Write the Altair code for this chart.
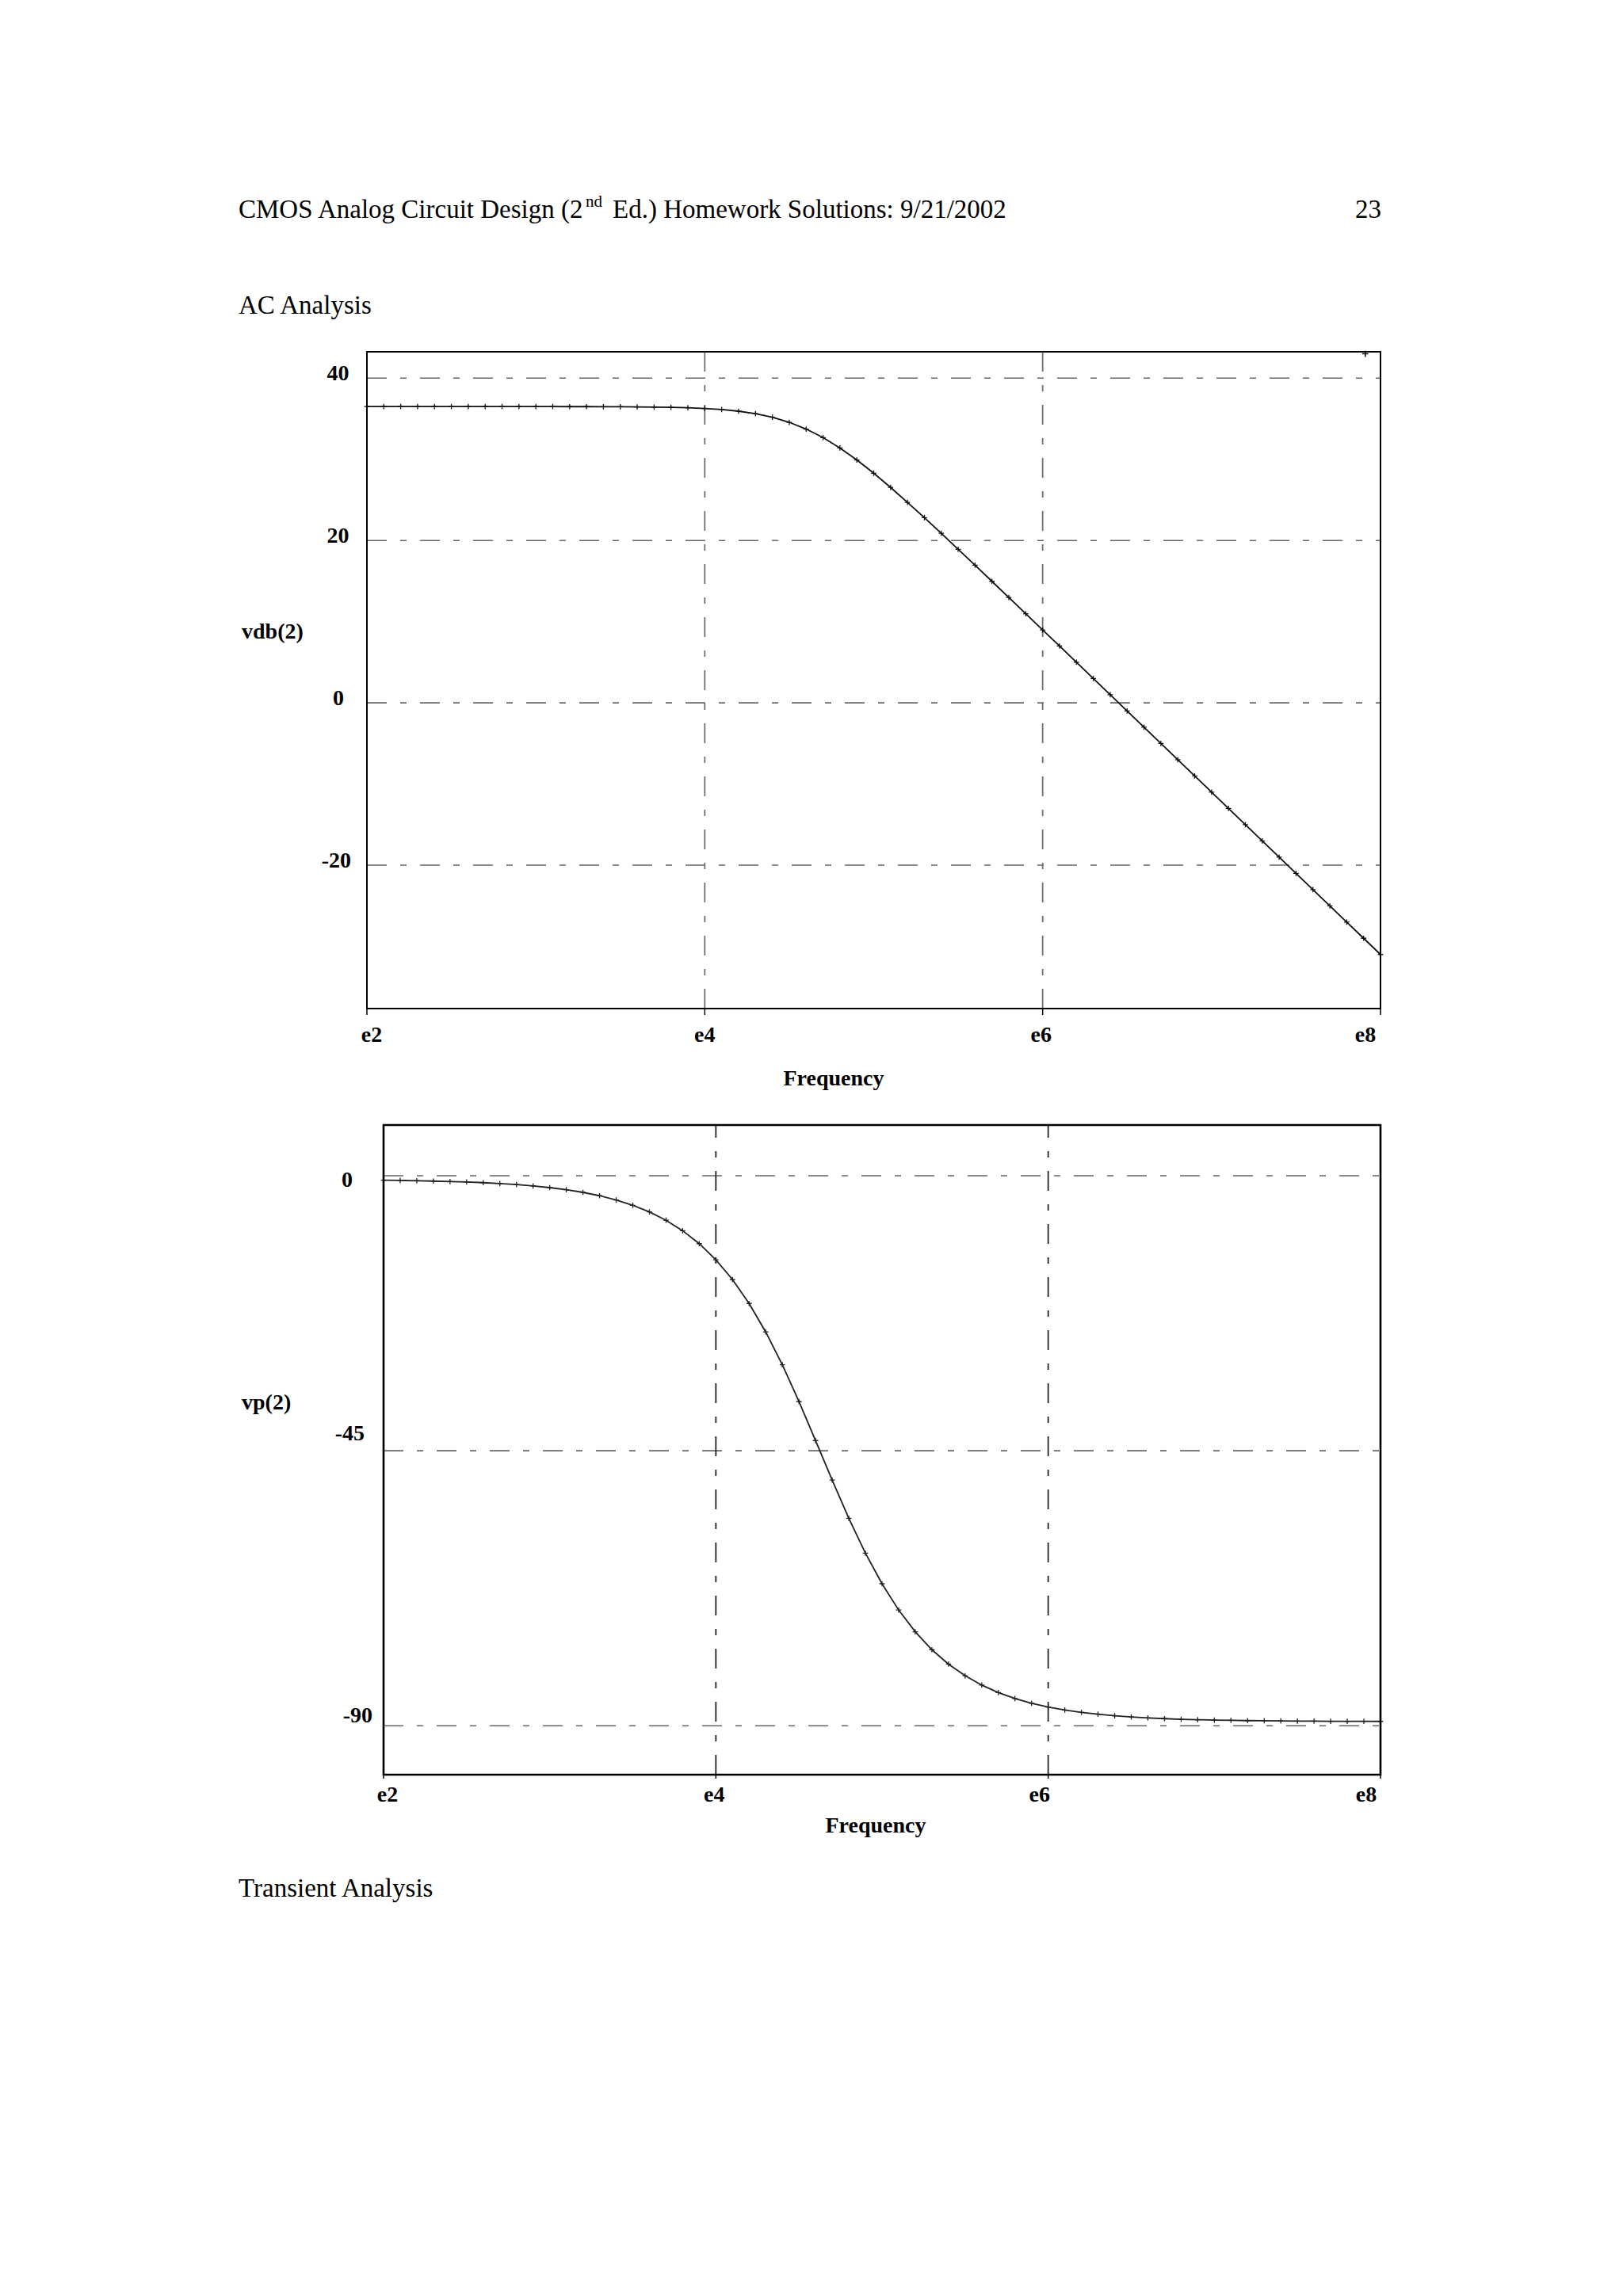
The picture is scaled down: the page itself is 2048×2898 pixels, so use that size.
import altair as alt
import pandas as pd

# ---------------- data ----------------
freq_exp = [2.0, 2.1, 2.2, 2.3, 2.4, 2.5, 2.6, 2.7, 2.8, 2.9,
            3.0, 3.1, 3.2, 3.3, 3.4, 3.5, 3.6, 3.7, 3.8, 3.9,
            4.0, 4.1, 4.2, 4.3, 4.4, 4.5, 4.6, 4.7, 4.8, 4.9,
            5.0, 5.1, 5.2, 5.3, 5.4, 5.5, 5.6, 5.7, 5.8, 5.9,
            6.0, 6.1, 6.2, 6.3, 6.4, 6.5, 6.6, 6.7, 6.8, 6.9,
            7.0, 7.1, 7.2, 7.3, 7.4, 7.5, 7.6, 7.7, 7.8, 7.9, 8.0]

vdb = [36.50, 36.50, 36.50, 36.50, 36.50, 36.50, 36.50, 36.50, 36.50, 36.50,
       36.50, 36.50, 36.49, 36.49, 36.48, 36.48, 36.46, 36.44, 36.40, 36.35,
       36.26, 36.13, 35.93, 35.62, 35.18, 34.56, 33.73, 32.68, 31.40, 29.92,
       28.29, 26.54, 24.70, 22.81, 20.88, 18.92, 16.95, 14.97, 12.98, 10.99,
       8.99, 7.00, 5.00, 3.00, 1.00, -1.00, -3.00, -5.00, -7.00, -9.00,
       -11.00, -13.00, -15.00, -17.00, -19.00, -21.00, -23.00, -25.00, -27.00, -29.00, -31.00]

vp = [-0.73, -0.77, -0.81, -0.87, -0.94, -1.02, -1.13, -1.27, -1.45, -1.66,
      -1.94, -2.29, -2.72, -3.27, -3.96, -4.83, -5.92, -7.28, -8.99, -11.11,
      -13.75, -16.98, -20.90, -25.56, -30.94, -36.94, -43.33, -49.80, -56.04, -61.75,
      -66.76, -71.05, -74.62, -77.55, -79.91, -81.81, -83.34, -84.56, -85.54, -86.31,
      -86.92, -87.41, -87.80, -88.11, -88.36, -88.55, -88.71, -88.83, -88.93, -89.00,
      -89.06, -89.11, -89.15, -89.18, -89.21, -89.23, -89.24, -89.26, -89.27, -89.27, -89.28]

# stray trace marker near the top-right corner of the magnitude plot
vdb_marker_exp = [7.91]
vdb_marker_val = [43.0]

x_tick_exp = [2, 4, 6, 8]
x_grid_exp = [4, 6]
vdb_ticks = [40, 20, 0, -20]
vp_ticks = [0, -45, -90]
vdb_domain = [-37.66, 43.25]
vp_domain = [-98.0, 8.3]
freq_domain_exp = [2, 8]

header_part1 = "CMOS Analog Circuit Design (2"
header_sup = "nd"
header_part2 = "Ed.) Homework Solutions: 9/21/2002"
page_number = "23"
section_ac = "AC Analysis"
section_tr = "Transient Analysis"
x_title = "Frequency"
top_y_title = "vdb(2)"
bot_y_title = "vp(2)"

# ---------------- layout constants (canvas px = page px - 8) ----------------
W, H = 1800, 2450
FONT = "Liberation Serif"
DASH = [25, 17, 8, 17]
CROSS = "M-1,0L1,0M0,-1L0,1"
DOWN = "M0,0L0,2"

fmin, fmax = 10 ** freq_domain_exp[0], 10 ** freq_domain_exp[1]
freq = [10 ** e for e in freq_exp]


def make_plot(values, ydom, xr, yr, hgrid, vcolor, frame_w, line_color,
              tick_len, xlab_dx, xlab_dy, ylab_offsets, marker=None):
    df = pd.DataFrame({"f": freq, "v": values})
    xs = alt.Scale(type="log", domain=[fmin, fmax], range=xr)
    ys = alt.Scale(domain=ydom, range=yr, nice=False, zero=False)

    def X(field):
        return alt.X(field, scale=xs, axis=None)

    def Y(field):
        return alt.Y(field, scale=ys, axis=None)

    def XD(v):
        return alt.XDatum(v, type="quantitative", scale=xs, axis=None)

    def YD(v):
        return alt.YDatum(v, type="quantitative", scale=ys, axis=None)

    layers = []
    # dash-dot grid
    layers.append(alt.Chart(pd.DataFrame({"g": hgrid})).mark_rule(
        color="#666666", strokeWidth=1.6, strokeDash=DASH
    ).encode(y=Y("g:Q"), x=XD(fmin), x2=alt.X2Datum(fmax)))
    layers.append(alt.Chart(pd.DataFrame({"g": [10 ** e for e in x_grid_exp]})).mark_rule(
        color=vcolor, strokeWidth=1.8, strokeDash=DASH
    ).encode(x=X("g:Q"), y=YD(ydom[0]), y2=alt.Y2Datum(ydom[1])))
    # curve and its sample markers
    layers.append(alt.Chart(df).mark_line(color=line_color, strokeWidth=1.8).encode(
        x=X("f:Q"), y=Y("v:Q")))
    layers.append(alt.Chart(df).mark_point(
        shape=CROSS, size=45, filled=False, color=line_color, strokeWidth=1.3, opacity=1
    ).encode(x=X("f:Q"), y=Y("v:Q")))
    if marker:
        mdf = pd.DataFrame({"f": [10 ** e for e in marker[0]], "v": marker[1]})
        layers.append(alt.Chart(mdf).mark_point(
            shape=CROSS, size=60, filled=False, color=line_color, strokeWidth=1.6, opacity=1
        ).encode(x=X("f:Q"), y=Y("v:Q")))
    # frame
    layers.append(alt.Chart(pd.DataFrame({"a": [0]})).mark_rect(
        filled=False, color="black", strokeWidth=frame_w
    ).encode(x=XD(fmin), x2=alt.X2Datum(fmax), y=YD(ydom[0]), y2=alt.Y2Datum(ydom[1])))
    # x tick marks below the frame
    layers.append(alt.Chart(pd.DataFrame({"g": [10 ** e for e in x_tick_exp]})).mark_point(
        shape=DOWN, size=(tick_len * 2 / 2) ** 2, filled=False, color="black", strokeWidth=1.5, opacity=1
    ).encode(x=X("g:Q"), y=YD(ydom[0])))
    # x tick labels
    for e, dx in zip(x_tick_exp, xlab_dx):
        layers.append(alt.Chart(pd.DataFrame({"g": [10 ** e], "lab": ["e" + str(e)]})).mark_text(
            align="center", baseline="middle", font=FONT, fontWeight="bold", fontSize=28,
            color="black", dx=dx, dy=xlab_dy,
        ).encode(x=X("g:Q"), y=YD(ydom[0]), text="lab:N"))
    # y tick labels
    for val, (dx, dy) in zip(hgrid, ylab_offsets):
        layers.append(alt.Chart(pd.DataFrame({"g": [val], "lab": [str(val)]})).mark_text(
            align="right", baseline="middle", font=FONT, fontWeight="bold", fontSize=28,
            color="black", dx=dx, dy=dy,
        ).encode(y=Y("g:Q"), x=XD(fmin), text="lab:N"))
    return alt.layer(*layers)


top_plot = make_plot(
    vdb, vdb_domain, [455, 1734], [1265, 436], vdb_ticks, "#707070", 2, "#111111",
    tick_len=8, xlab_dx=[6, 0, -2, -19], xlab_dy=34,
    ylab_offsets=[(-22.6, -5.3), (-22.6, -5.6), (-29, -5.6), (-20, -5.3)],
    marker=(vdb_marker_exp, vdb_marker_val),
)
bot_plot = make_plot(
    vp, vp_domain, [476, 1734], [2232, 1412], vp_ticks, "#222222", 2.6, "#222222",
    tick_len=5, xlab_dx=[5, -2, -11, -18], xlab_dy=26,
    ylab_offsets=[(-39, 6), (-24, -21), (-14, -12)],
)


def page_text(s, x, y, size, align="left", weight="normal", baseline="alphabetic"):
    return alt.Chart(pd.DataFrame({"t": [s]})).mark_text(
        align=align, baseline=baseline, font=FONT, fontSize=size, fontWeight=weight,
        color="black", x=x, y=y,
    ).encode(text="t:N")


texts = [
    page_text(header_part1, 293, 267, 33),
    page_text(header_sup, 731, 253, 21),
    page_text(header_part2, 765, 267, 33),
    page_text(page_number, 1735, 267, 33, align="right"),
    page_text(section_ac, 293, 388, 33),
    page_text(section_tr, 293, 2386, 33),
    # axis titles
    page_text(x_title, 1044, 1354, 28, align="center", weight="bold", baseline="middle"),
    page_text(x_title, 1097, 2297, 28, align="center", weight="bold", baseline="middle"),
    page_text(top_y_title, 297, 790, 28, weight="bold", baseline="middle"),
    page_text(bot_y_title, 297, 1763, 28, weight="bold", baseline="middle"),
]

chart = alt.layer(top_plot, bot_plot, *texts).resolve_scale(
    x="independent", y="independent"
).properties(
    width=W, height=H, padding=0, autosize=alt.AutoSizeParams(type="none")
).configure_view(strokeWidth=0)

chart.save("out.html", embed_options={"renderer": "svg", "actions": False})
